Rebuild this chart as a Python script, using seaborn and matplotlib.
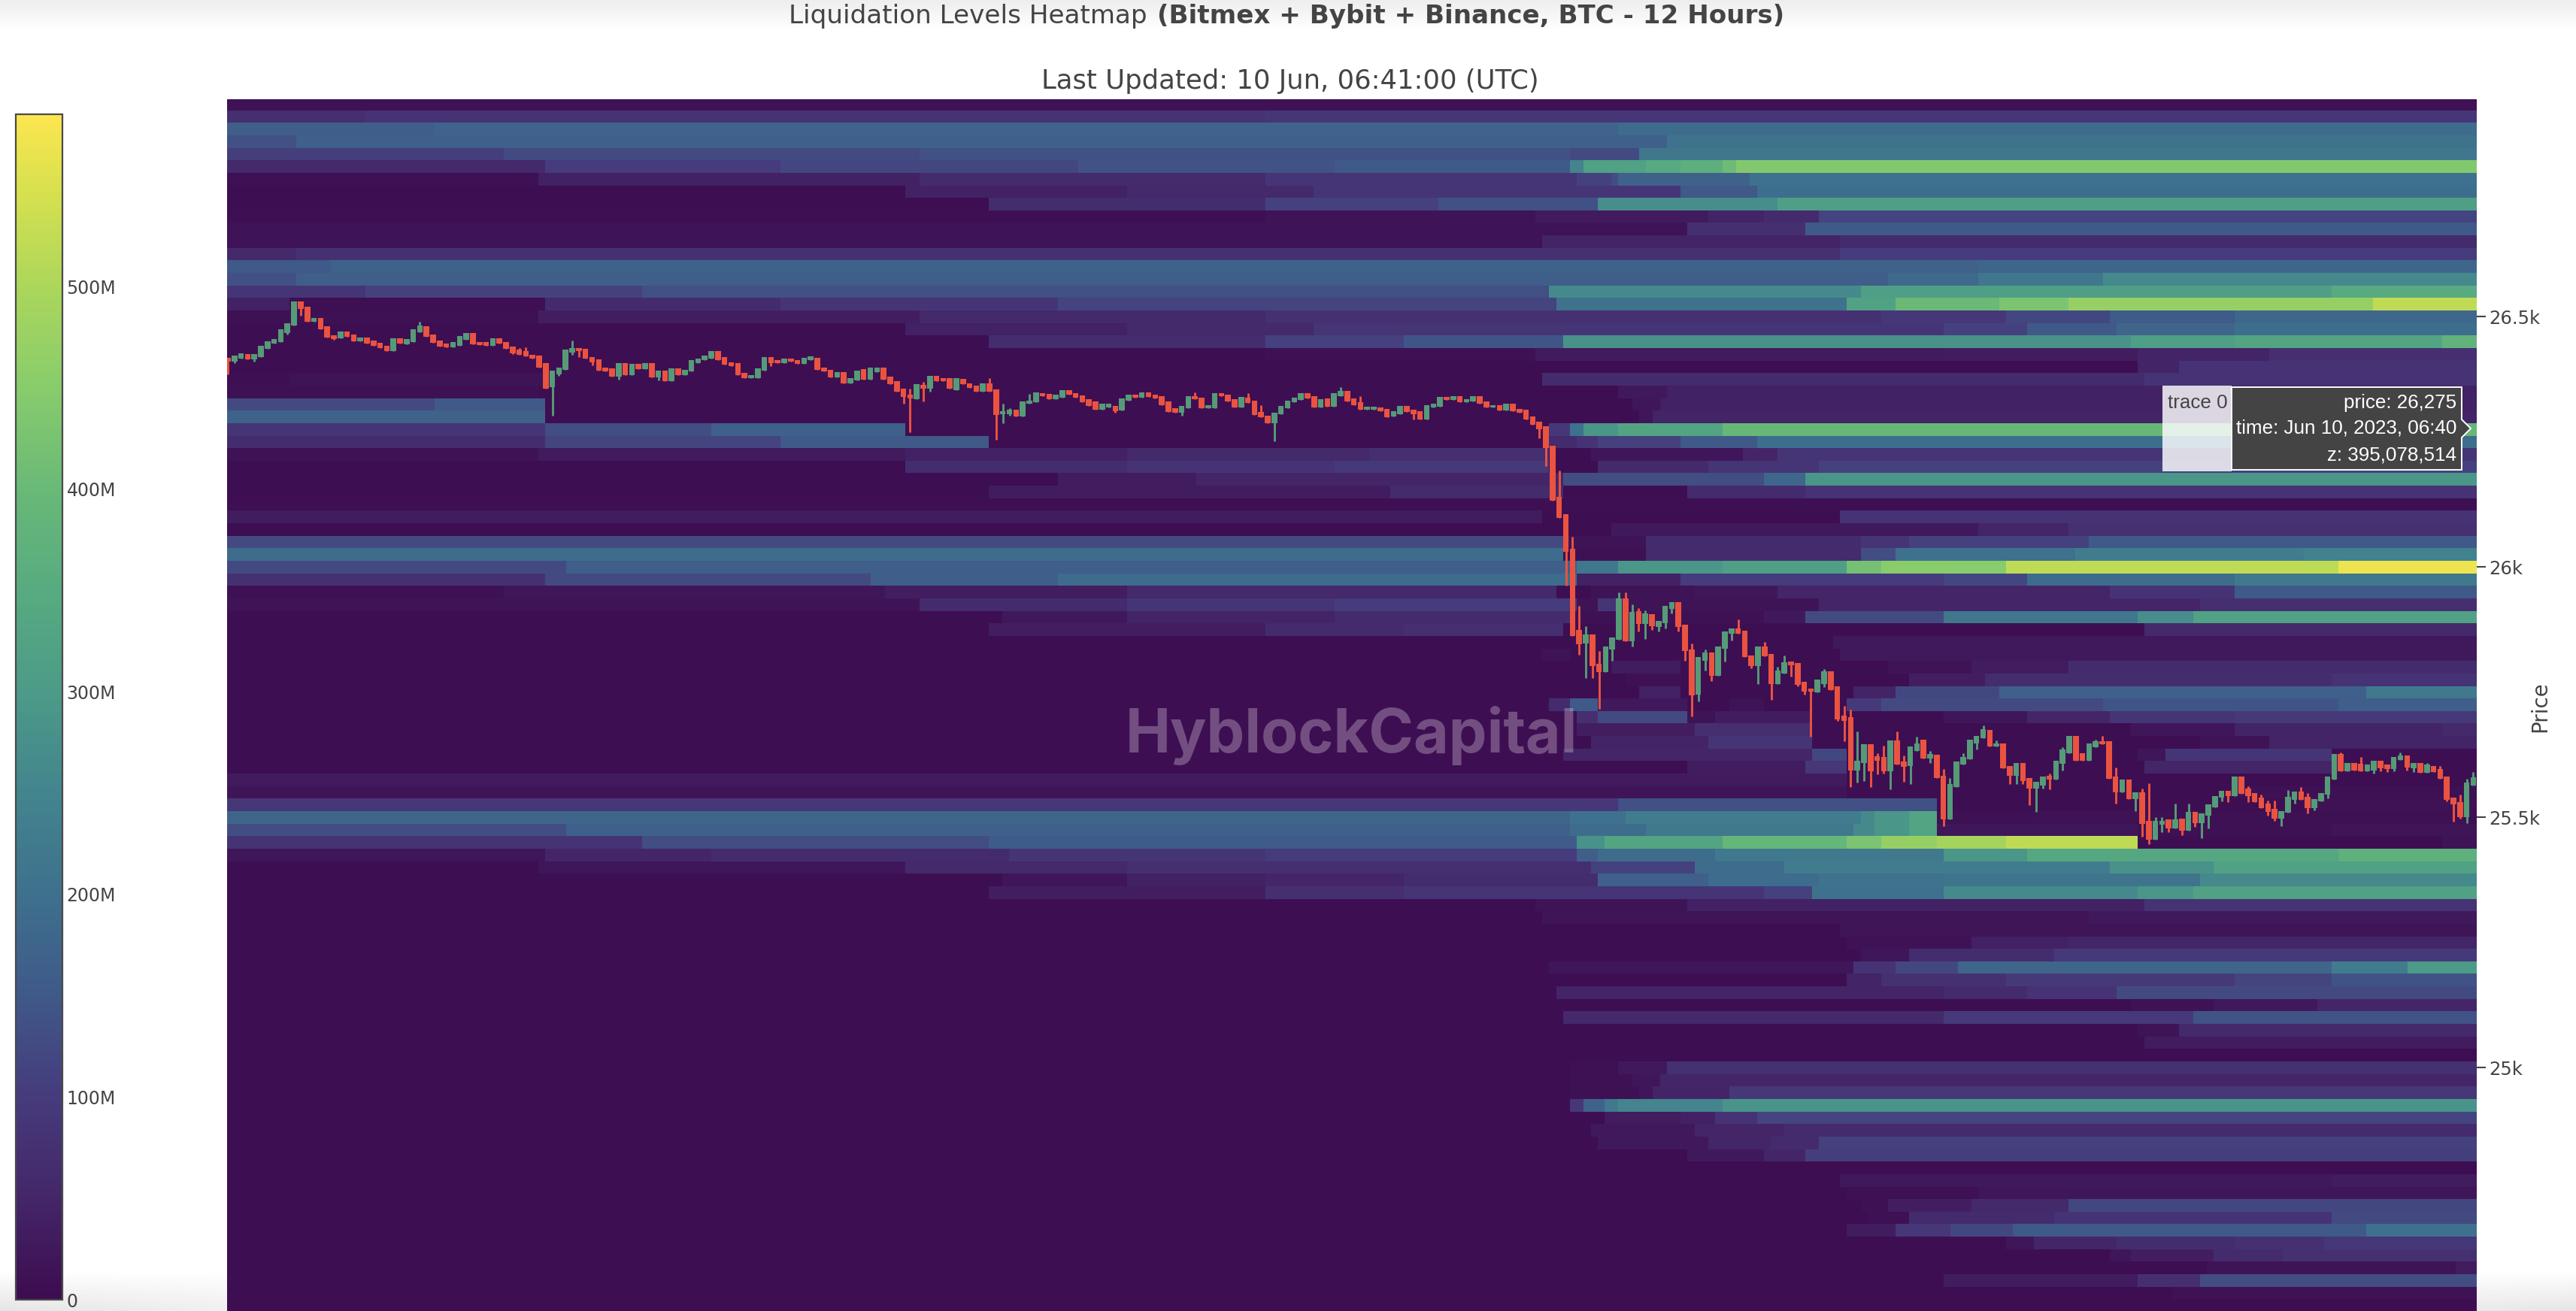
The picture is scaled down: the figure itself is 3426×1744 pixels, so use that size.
import numpy as np
import pandas as pd
import matplotlib
matplotlib.use("Agg")
import matplotlib.pyplot as plt
from matplotlib.colors import LinearSegmentedColormap
from matplotlib.patches import Polygon, Rectangle
import seaborn as sns

# ---------- price bins (USD, 25 wide) and time columns ----------
top_price = 26925
bin_size = 25
n_columns = 325

# liquidation levels in millions: one list per price bin, (time column, value from there on)
level_steps = [
 [(0,12)],
 [(0,70),(20,80),(150,88)],
 [(0,160),(30,172),(201,190)],
 [(0,135),(10,165),(208,205)],
 [(0,105),(40,125),(100,138),(194,125),(204,215)],
 [(0,55),(46,100),(80,120),(123,140),(160,150),(194,250),(196,320),(205,345),(210,365),(216,405),(218,440)],
 [(0,8),(45,40),(100,60),(150,85),(195,110),(200,130),(201,170),(220,200)],
 [(0,5),(98,40),(130,55),(157,85),(210,150),(221,195)],
 [(0,5),(110,65),(150,110),(175,135),(198,270),(224,310)],
 [(0,6),(150,14),(189,28),(214,45),(222,60),(230,115)],
 [(0,14),(211,70),(228,150)],
 [(0,14),(190,45),(233,60)],
 [(0,55),(10,72),(233,100)],
 [(0,150),(15,170),(253,178)],
 [(0,135),(10,160),(240,185),(253,215),(271,260)],
 [(0,85),(20,110),(60,135),(191,260),(236,310),(304,350)],
 [(0,40),(9,6),(46,60),(80,85),(120,115),(192,205),(234,320),(241,400),(256,430),(266,470),(310,520)],
 [(0,8),(45,35),(100,55),(150,75),(239,90),(257,120),(272,155),(290,180)],
 [(0,5),(98,40),(130,55),(157,85),(248,110),(260,150),(273,175),(290,195)],
 [(0,5),(110,65),(150,110),(170,145),(193,280),(275,310),(290,330),(320,380)],
 [(0,5),(150,10),(189,28),(248,32),(276,45),(295,70)],
 [(0,5),(276,45),(282,80)],
 [(0,6),(9,15),(46,5),(190,60),(277,80)],
 [(0,10),(45,5),(201,25),(208,40)],
 [(0,125),(30,150),(46,5),(203,20),(207,40)],
 [(0,170),(46,5),(204,20),(206,45)],
 [(0,85),(46,130),(70,165),(98,5),(191,90),(194,200),(196,290),(201,330),(216,395)],
 [(0,65),(46,115),(80,150),(110,5),(191,60),(195,80),(198,110),(210,150),(221,195)],
 [(0,12),(45,28),(98,40),(130,55),(165,70),(191,5),(197,20),(219,50),(224,85)],
 [(0,5),(98,65),(130,80),(160,95),(191,5),(198,55),(214,85),(230,110)],
 [(0,5),(120,30),(140,50),(193,130),(222,180),(228,290)],
 [(0,5),(110,30),(168,60),(193,5),(211,60),(228,80)],
 [(0,6)],
 [(0,30),(190,5),(233,80)],
 [(0,5),(200,25),(253,50),(266,75)],
 [(0,125),(193,15),(205,60),(236,85),(243,110),(269,150)],
 [(0,190),(193,10),(205,60),(236,130),(241,200),(267,230),(300,245)],
 [(0,125),(49,160),(195,215),(201,290),(216,310),(234,420),(239,450),(257,520),(305,570)],
 [(0,75),(46,125),(93,160),(120,190),(195,40),(210,100),(248,120),(260,190),(290,220)],
 [(0,10),(40,20),(95,35),(130,55),(192,5),(197,15),(212,20),(224,50),(272,80),(290,150)],
 [(0,15),(100,60),(130,85),(160,100),(195,15),(198,85),(201,15),(230,50),(285,70)],
 [(0,5),(112,25),(130,45),(160,60),(194,10),(222,25),(228,125),(248,215),(276,270),(284,320)],
 [(0,5),(110,35),(150,60),(170,70),(193,5),(277,55)],
 [(0,5),(232,25)],
 [(0,5),(190,15),(194,5),(233,25)],
 [(0,5),(200,30),(210,5),(240,15),(252,30),(266,60)],
 [(0,5),(202,10),(210,5),(243,35),(254,65),(304,80)],
 [(0,5),(204,40),(210,5),(235,45),(241,120),(256,165),(309,220)],
 [(0,5),(191,60),(194,150),(198,25),(211,5),(217,15),(222,5),(234,95),(239,125),(271,145),(305,160)],
 [(0,5),(195,70),(198,125),(211,15),(215,30),(229,5),(248,20),(260,50),(272,85),(290,95)],
 [(0,5),(195,35),(212,70),(229,5),(275,20),(290,45),(320,55)],
 [(0,5),(197,45),(214,85),(229,5),(285,15),(295,45)],
 [(0,5),(193,50),(229,120),(234,5),(276,20),(280,85),(304,5)],
 [(0,5),(211,30),(228,90),(234,5),(277,50),(304,5)],
 [(0,28),(234,5)],
 [(0,18),(234,5),(290,10)],
 [(0,90),(201,135),(247,5),(300,12)],
 [(0,175),(194,200),(202,230),(236,260),(238,290),(243,330),(247,8),(261,12),(276,8)],
 [(0,130),(49,165),(194,190),(205,220),(235,260),(238,290),(243,330),(247,20),(276,8),(304,18)],
 [(0,80),(60,130),(110,155),(195,280),(199,330),(216,390),(234,430),(239,470),(247,490),(257,520),(276,5),(320,15)],
 [(0,20),(46,50),(70,60),(113,85),(150,100),(195,160),(198,190),(215,220),(248,290),(260,340),(305,370)],
 [(0,5),(45,20),(98,55),(130,70),(197,110),(212,190),(225,230),(272,280),(287,320)],
 [(0,5),(112,20),(130,40),(150,50),(170,65),(198,165),(214,190),(230,205),(248,210),(285,260)],
 [(0,5),(110,35),(150,70),(170,85),(222,110),(229,200),(248,260),(276,290),(284,320)],
 [(0,5),(189,15),(211,40),(277,80)],
 [(0,5),(190,18),(269,25)],
 [(0,5),(233,18)],
 [(0,5),(234,12),(252,40),(266,48)],
 [(0,5),(236,20),(243,65),(264,95)],
 [(0,5),(191,20),(235,80),(241,120),(250,175),(304,230),(315,300)],
 [(0,5),(234,45),(239,75),(257,95),(290,115),(304,140)],
 [(0,5),(192,45),(248,60),(260,80),(273,125)],
 [(0,5),(275,12),(287,25),(302,50)],
 [(0,5),(193,55),(248,95),(284,140)],
 [(0,5),(276,15),(282,55)],
 [(0,5),(277,30)],
 [(0,5)],
 [(0,5),(194,8),(201,25),(208,75)],
 [(0,5),(194,8),(203,20),(207,50)],
 [(0,5),(194,8),(204,20),(206,45),(217,90)],
 [(0,5),(194,90),(196,170),(199,220),(201,250),(216,285)],
 [(0,5),(199,30),(210,40),(215,80),(221,115)],
 [(0,5),(197,25),(212,50),(225,60)],
 [(0,5),(198,25),(214,50),(223,60),(230,110)],
 [(0,5),(211,25),(222,50),(228,105)],
 [(0,5)],
 [(0,5),(233,25),(304,30)],
 [(0,5),(234,8),(253,20)],
 [(0,5),(236,8),(240,35),(252,55),(266,120)],
 [(0,5),(237,8),(243,60),(264,80),(304,125)],
 [(0,5),(234,30),(241,90),(249,120),(258,150),(309,200)],
 [(0,5),(257,20),(261,50),(273,65),(290,75),(303,90)],
 [(0,5),(272,20),(275,35),(287,60),(297,75)],
 [(0,5),(286,15),(322,30)],
 [(0,5),(248,30),(276,70),(285,130)],
 [(0,5),(281,12)],
 [(0,5)],
 [(0,5)],
]

# ---------- BTC candles ----------
opens = [
 26418,26410,26416,26426,26415,26420,26436,26446,26450,26468,26482,26530,26520,26490,26497,26481,26463,26457,26471,26465,
 26451,26458,26452,26448,26442,26432,26457,26445,26450,26469,26481,26464,26453,26447,26439,26442,26454,26467,26450,26449,
 26442,26457,26449,26440,26434,26432,26424,26423,26407,26360,26385,26394,26428,26437,26436,26420,26415,26398,26397,26381,
 26407,26383,26406,26396,26408,26379,26393,26371,26397,26383,26391,26408,26414,26417,26431,26419,26409,26407,26388,26377,
 26377,26392,26419,26414,26408,26417,26414,26406,26414,26418,26399,26394,26379,26390,26367,26373,26396,
 26374,26390,26399,26380,26371,26356,26345,26335,26364,26356,26382,26378,26377,26354,26376,26367,26363,26350,26367,26355,
 26305,26305,26315,26301,26327,26329,26347,26346,26336,26339,26354,26348,26343,26335,26331,26315,26319,26322,26313,26332,
 26344,26339,26349,26344,26342,26331,26317,26308,26317,26341,26338,26317,26317,26348,26345,26335,26319,26338,26333,26310,
 26303,26288,26305,26317,26329,26334,26347,26341,26319,26337,26320,26341,26352,26337,26330,26314,26314,26319,26316,26301,
 26306,26322,26315,26311,26295,26319,26320,26340,26334,26342,26330,26331,26342,26331,26319,26324,26313,26326,26316,26315,
 26301,26290,26282,26243,26140,
 26106,26036,25875,25847,25865,25807,25791,25835,25855,25938,25852,25912,25886,25906,25881,25888,25917,25930,25885,25836,
 25745,25813,25830,25783,25837,25867,25877,25873,25824,25802,25842,25827,25766,25787,25812,25809,25771,25757,25750,25766,
 25792,25762,25703,25700,25593,25608,25646,25622,25620,25592,25653,25611,25602,25633,25655,25618,25625,25583,25496,25560,
 25606,25616,25648,25658,25675,25642,25648,25603,25583,25608,25578,25557,25563,25583,25575,
 25607,25628,25663,25628,25613,25640,25652,25652,25582,25550,25575,25536,25550,25493,25456,25486,25496,25478,25498,25473,
 25511,25488,25503,25520,25540,25553,25543,25582,25558,25548,25540,25528,25517,25497,25510,25535,25552,25541,25518,25532,
 25545,25575,25627,25592,25608,25607,25592,25593,25613,25606,25596,25615,25623,25598,25609,25589,25603,25597,25582,25540,
 25531,25501,25563,
]
closes = [
 26410,26422,26427,26415,26425,26442,26451,26455,26475,26487,26530,26515,26490,26497,26475,26458,26455,26470,26460,26451,
 26458,26446,26442,26438,26432,26457,26446,26456,26475,26482,26460,26448,26441,26439,26449,26461,26467,26445,26444,26442,
 26457,26446,26436,26427,26424,26421,26416,26399,26357,26392,26399,26435,26437,26431,26416,26409,26392,26391,26381,26407,
 26383,26406,26396,26408,26379,26393,26371,26397,26383,26394,26413,26417,26422,26431,26413,26404,26402,26383,26377,26383,
 26397,26419,26407,26408,26417,26411,26406,26418,26421,26394,26391,26379,26390,26367,26377,26393,26374,
 26399,26399,26375,26366,26350,26340,26337,26365,26356,26382,26372,26372,26356,26377,26365,26358,26350,26367,26350,26304,
 26312,26315,26301,26331,26333,26349,26342,26336,26344,26354,26344,26339,26330,26322,26315,26326,26326,26312,26337,26344,
 26339,26349,26340,26337,26323,26310,26308,26322,26341,26335,26317,26323,26348,26341,26331,26319,26340,26328,26304,26300,
 26288,26308,26322,26333,26339,26347,26337,26319,26336,26320,26348,26352,26331,26324,26315,26320,26320,26312,26300,26312,
 26322,26310,26306,26295,26323,26326,26340,26334,26342,26330,26336,26342,26326,26319,26323,26313,26326,26311,26308,26295,
 26284,26276,26238,26133,26098,
 26031,25863,25846,25865,25802,25790,25842,25860,25938,25852,25911,25886,25907,25882,25893,25922,25930,25881,25832,25744,
 25821,25830,25783,25842,25872,25878,25867,25820,25802,25842,25822,25766,25793,25810,25804,25765,25751,25751,25775,25792,
 25755,25696,25693,25593,25613,25646,25592,25613,25592,25653,25605,25601,25642,25648,25618,25626,25578,25496,25566,25612,
 25621,25655,25663,25676,25642,25648,25598,25583,25608,25573,25557,25571,25582,25575,25613,
 25635,25662,25613,25613,25648,25652,25646,25577,25550,25575,25536,25550,25487,25456,25493,25493,25478,25496,25473,25511,
 25488,25508,25526,25543,25553,25543,25582,25547,25543,25531,25518,25511,25497,25513,25541,25552,25535,25518,25537,25549,
 25581,25626,25592,25608,25594,25592,25605,25613,25598,25596,25620,25623,25600,25608,25589,25606,25590,25577,25535,25526,
 25501,25570,25580,
]
# wicks reaching past the body, by candle number (first candle = 1)
high_wicks = {
 12:26530,30:26490,45:26438,46:26439,53:26452,104:26356,106:26370,116:26378,118:26326,119:26317,122:26346,147:26349,
 155:26348,157:26323,169:26360,172:26341,202:26193,204:26060,205:25923,206:25882,208:25833,211:25950,212:25950,213:25926,
 214:25918,215:25913,222:25848,224:25835,228:25878,229:25895,233:25851,235:25801,236:25824,242:25796,245:25723,246:25715,
 247:25671,250:25628,251:25643,253:25671,254:25623,256:25661,258:25633,260:25596,261:25578,263:25628,266:25683,268:25653,
 276:25588,278:25640,283:25655,284:25663,286:25600,290:25557,291:25568,292:25501,293:25500,295:25528,297:25527,306:25562,
 308:25545,309:25533,310:25533,312:25554,314:25561,315:25549,320:25629,323:25620,329:25629,333:25609,335:25603,338:25546,
 339:25577,340:25591,
}
low_wicks = {
 1:26385,2:26407,5:26410,10:26465,12:26502,17:26454,24:26437,44:26425,50:26302,51:26382,53:26424,54:26419,56:26403,
 60:26375,66:26373,83:26401,103:26327,104:26270,106:26331,107:26351,117:26254,118:26287,119:26302,135:26308,145:26303,
 159:26251,180:26295,199:26257,200:26202,203:25963,205:25825,206:25778,207:25778,208:25717,210:25813,213:25841,214:25871,
 215:25856,216:25875,217:25871,218:25878,219:25908,220:25871,221:25813,222:25702,223:25732,224:25793,225:25773,227:25811,
 228:25853,231:25798,232:25766,234:25735,237:25781,238:25762,239:25745,240:25661,242:25761,244:25692,245:25652,246:25560,
 247:25570,248:25572,249:25560,250:25586,251:25588,252:25556,254:25571,255:25567,258:25608,260:25482,265:25635,270:25566,
 271:25567,272:25566,273:25525,274:25511,275:25558,276:25556,278:25593,286:25527,289:25512,290:25462,291:25446,293:25471,
 294:25471,296:25465,298:25481,299:25458,300:25478,302:25532,303:25530,306:25531,309:25504,310:25493,311:25482,313:25527,
 315:25508,316:25514,318:25538,325:25587,326:25592,327:25590,328:25592,330:25593,331:25591,336:25532,337:25492,338:25497,
 339:25489,
}

price_ticks = [25000, 25500, 26000, 26500]
price_tick_labels = ["25k", "25.5k", "26k", "26.5k"]
scale_ticks = [0, 100, 200, 300, 400, 500]
scale_tick_labels = ["0", "100M", "200M", "300M", "400M", "500M"]
scale_max = 585

title_plain = "Liquidation Levels Heatmap "
title_bold = "(Bitmex + Bybit + Binance, BTC - 12 Hours)"
subtitle = "Last Updated: 10 Jun, 06:41:00 (UTC)"
hover_name = "trace 0"
hover_lines = ["price: 26,275", "time: Jun 10, 2023, 06:40", "z: 395,078,514"]
watermark = "HyblockCapital"

# ---------- layout helpers ----------
W, H = 3426, 1744
TEXT = "#444444"
UP, DOWN = "#559b78", "#ea5340"

sns.set_theme(style="white")
plt.rcParams["font.family"] = ["DejaVu Sans"]

fig = plt.figure(figsize=(W / 100, H / 100), dpi=100, facecolor="white")

def box(x0, y0, x1, y1):
    return [x0 / W, 1 - y1 / H, (x1 - x0) / W, (y1 - y0) / H]

def fx(x):
    return x / W

def fy(y):
    return 1 - y / H

# page shading at the top edge and the bottom corners
bg = fig.add_axes([0, 0, 1, 1], zorder=-5)
shade = np.ones((H // 4, W // 4))
top_band = 11
shade[:top_band, :] = np.linspace(0.93, 1.0, top_band)[:, None]
bottom_band = 14
fade = np.linspace(1.0, 0.90, bottom_band)[:, None]
side = np.clip(np.abs(np.linspace(-1, 1, W // 4)), 0, 1) ** 1.0
side = np.clip((side - 0.55) / 0.45, 0, 1)
shade[-bottom_band:, :] = 1 - (1 - fade) * side[None, :]
bg.imshow(shade, cmap="gray", vmin=0, vmax=1, aspect="auto", interpolation="bilinear")
bg.set_axis_off()

# ---------- heatmap ----------
prices = [top_price - bin_size * i for i in range(len(level_steps))]
grid = np.zeros((len(level_steps), n_columns))
for r, steps in enumerate(level_steps):
    for col, value in steps:
        grid[r, col:] = value
levels = pd.DataFrame(grid, index=prices, columns=range(n_columns))

scale = LinearSegmentedColormap.from_list("muted_viridis", [
    (0.00, "#3d0c50"), (0.09, "#44286a"), (0.17, "#463b7c"), (0.26, "#3f5a89"),
    (0.34, "#3e708d"), (0.43, "#43858e"), (0.51, "#4c9a88"), (0.60, "#58ab80"),
    (0.68, "#68b878"), (0.77, "#88cc6c"), (0.85, "#a9d65c"), (0.93, "#d4e04f"),
    (1.00, "#fce64f"),
], N=512)

ax = fig.add_axes(box(302, 132, 3294, 1744))
cax = fig.add_axes(box(21, 152, 83, 1729))
sns.heatmap(levels, ax=ax, cbar_ax=cax, cmap=scale, vmin=0, vmax=scale_max,
            xticklabels=False, yticklabels=False, cbar_kws={"ticks": scale_ticks})
ax.set_xlabel("")
ax.set_ylabel("")
# price scale of the rows: a row's edges lie half a bin around its price
edge_top = top_price + bin_size / 2
price_hi = edge_top - 3
price_lo = edge_top - bin_size * 96.94
ax.set_ylim((edge_top - price_lo) / bin_size, (edge_top - price_hi) / bin_size)

cbar = ax.collections[0].colorbar
cbar.set_ticks(scale_ticks, labels=scale_tick_labels)
cbar.ax.tick_params(length=0, pad=4, labelsize=17, labelcolor=TEXT)
cbar.outline.set_edgecolor("#4a4a4a")
cbar.outline.set_linewidth(1.6)
cbar.outline.set_visible(True)

# ---------- candles on a price axis laid over the heatmap ----------
pax = fig.add_axes(box(302, 132, 3294, 1744), facecolor="none", zorder=3)
o = np.array(opens, float)
c = np.array(closes, float)
numbers = np.arange(1, len(o) + 1)
high = np.maximum(o, c)
low = np.minimum(o, c)
for k, v in high_wicks.items():
    high[k - 1] = max(high[k - 1], v)
for k, v in low_wicks.items():
    low[k - 1] = min(low[k - 1], v)
colors = np.where(c >= o, UP, DOWN)
pax.vlines(numbers, low, high, colors=colors, linewidth=2.1, zorder=3)
pax.bar(numbers, np.maximum(np.abs(c - o), 3), bottom=np.minimum(o, c), width=0.86,
        color=colors, linewidth=0, zorder=4)
spacing = (3289.4 - 303) / (len(o) - 1)
pax.set_xlim(1 - (303 - 302) / spacing, 1 + (3294 - 303) / spacing)
pax.set_ylim(price_lo, price_hi)
pax.set_xticks([])
pax.yaxis.tick_right()
pax.yaxis.set_label_position("right")
pax.set_yticks(price_ticks, labels=price_tick_labels)
pax.tick_params(axis="y", length=8.5, width=1.5, color=TEXT, labelcolor=TEXT, labelsize=17.5, pad=3)
for s in pax.spines.values():
    s.set_visible(False)
fig.text(fx(3378), fy(940), "Price", rotation=90, ha="center", va="center", fontsize=20, color=TEXT)

# ---------- watermark, below the candles ----------
fig.text(fx(1497), fy(1001), watermark, fontfamily="Inter", fontweight="bold", fontsize=58,
         color="white", alpha=0.27, ha="left", va="baseline", zorder=2)

# ---------- titles ----------
t1 = fig.text(fx(1049), fy(31), title_plain, fontsize=24.6, color=TEXT, ha="left", va="baseline")
fig.canvas.draw()
end = t1.get_window_extent().x1
fig.text(end / W + 3 / W, fy(31), title_bold, fontsize=24.6, fontweight="bold", color=TEXT, ha="left", va="baseline")
fig.text(fx(1716), fy(118), subtitle, fontsize=25.5, color=TEXT, ha="center", va="baseline")

# ---------- hover box ----------
fig.add_artist(Rectangle((fx(2876), fy(627)), 92 / W, 114 / H, transform=fig.transFigure,
                         facecolor="white", alpha=0.82, edgecolor="none", zorder=6))
outline = [(2968, 515), (3274, 515), (3274, 558), (3286, 570), (3274, 582), (3274, 625), (2968, 625)]
fig.add_artist(Polygon([(fx(x), fy(y)) for x, y in outline], closed=True, transform=fig.transFigure,
                       facecolor="#444444", edgecolor="white", linewidth=1.4, zorder=7))
fig.text(fx(2883), fy(536), hover_name, family="Liberation Sans", fontsize=18.7, color=TEXT,
         ha="left", va="center", zorder=8)
for line, y in zip(hover_lines, [536, 570, 605]):
    fig.text(fx(3267), fy(y), line, family="Liberation Sans", fontsize=18.7, color="white",
             ha="right", va="center", zorder=8)

fig.savefig("out.png", dpi=100)
print(len(opens), len(closes), len(level_steps))
